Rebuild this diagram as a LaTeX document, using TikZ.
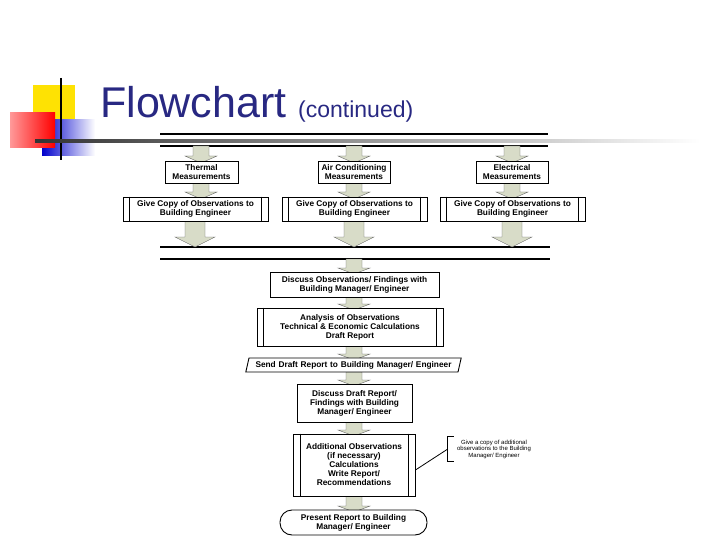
\documentclass[tikz,border=0pt]{standalone}
\usepackage{fontspec}
\setmainfont{Liberation Sans}
\usetikzlibrary{shapes.geometric}
\definecolor{navy}{RGB}{40,40,130}
\definecolor{afill}{RGB}{216,220,200}
\newcommand{\farrow}[6]{% x, ytop, ybot, shaft half, head half, head len
  \filldraw[fill=afill,draw=black!60,line width=0.4pt] (#1-#4,#2) -- (#1+#4,#2) -- (#1+#4,#3-#6) -- (#1+#5,#3-#6) -- (#1,#3) -- (#1-#5,#3-#6) -- (#1-#4,#3-#6) -- cycle;}
\tikzset{
 box/.style={draw,line width=0.9pt,align=center,font=\fontsize{8.3}{9}\selectfont\bfseries,inner sep=1pt},
 hl/.style={line width=1.3pt},
}
\begin{document}
\begin{tikzpicture}[x=1pt,y=-1pt]
\useasboundingbox (0,0) rectangle (720,540);
% logo
\fill[yellow!85!orange] (33,85) rectangle (75,120);
\shade[left color=blue!80!black,right color=white] (42,120) rectangle (95,156);
\shade[left color=red!40,right color=red] (10,113) rectangle (55,148);
\draw[line width=1.5pt] (61,78) -- (61,160);
\shade[left color=black!80,right color=white] (35,140) rectangle (700,142.5);
\node[anchor=base west,text=navy,font=\fontsize{43}{45}\selectfont,inner sep=0] (t) at (100,118) {Flowchart};
\node[anchor=base west,text=navy,font=\fontsize{23}{25}\selectfont,inner sep=0] (t2) at (298,118) {(continued)};
% bars
\draw[hl] (160,134) -- (548,134);
\draw[hl] (160,146) -- (548,146);
\draw[hl] (160,247) -- (550,247);
\draw[hl] (160,259) -- (550,259);
% small arrows top
\foreach \x in {201,354,512}{\farrow{\x}{146}{163}{8}{16}{7}}
\foreach \x in {201,354,512}{\farrow{\x}{183}{199}{8}{16}{7}}
\foreach \x in {195,354,512}{\farrow{\x}{221}{247}{10}{20}{10}}
\node[box,fill=white,minimum width=73pt,minimum height=22pt] (th) at (201.5,172) {Thermal\\Measurements};
\node[box,fill=white,minimum width=72pt,minimum height=22pt] (ac) at (354,172) {Air Conditioning\\Measurements};
\node[box,fill=white,minimum width=72pt,minimum height=22pt] (el) at (512,172) {Electrical\\Measurements};
\foreach \n/\x in {g1/195.5,g2/354.5,g3/512.5}{
 \node[box,fill=white,minimum width=145pt,minimum height=24pt] (\n) at (\x,209) {Give Copy of Observations to\\Building Engineer};
 \draw[line width=0.9pt] ([xshift=7pt]\n.north west) -- ([xshift=7pt]\n.south west);
 \draw[line width=0.9pt] ([xshift=-7pt]\n.north east) -- ([xshift=-7pt]\n.south east);
}
% central chain
\farrow{354}{259}{274}{8}{16}{6}
\farrow{354}{297}{310}{8}{16}{6}
\farrow{354}{346}{360}{8}{16}{6}
\farrow{354}{372}{386}{8}{16}{6}
\farrow{354}{422}{436}{8}{16}{6}
\farrow{354}{496}{512}{8}{16}{6}
\node[box,fill=white,minimum width=169pt,minimum height=25pt] (d1) at (354.5,284.5) {Discuss Observations/ Findings with\\Building Manager/ Engineer};
\node[box,fill=white,minimum width=186pt,minimum height=38pt] (an) at (350,327) {Analysis of Observations\\Technical \& Economic Calculations\\Draft Report};
\draw[line width=0.9pt] ([xshift=7pt]an.north west) -- ([xshift=7pt]an.south west);
\draw[line width=0.9pt] ([xshift=-7pt]an.north east) -- ([xshift=-7pt]an.south east);
\node[box,fill=white,trapezium,trapezium stretches body,trapezium left angle=70,trapezium right angle=110,text width=208pt,minimum height=14pt,inner sep=0.5pt] (sd) at (353.5,365) {Send Draft Report to Building Manager/ Engineer};
\node[box,fill=white,minimum width=115pt,minimum height=38pt] (d2) at (354.5,403) {Discuss Draft Report/\\Findings with Building\\Manager/ Engineer};
\node[box,fill=white,minimum width=122pt,minimum height=62pt] (ad) at (354,465) {Additional Observations\\(if necessary)\\Calculations\\Write Report/\\Recommendations};
\draw[line width=0.9pt] ([xshift=8pt]ad.north west) -- ([xshift=8pt]ad.south west);
\draw[line width=0.9pt] ([xshift=-7pt]ad.north east) -- ([xshift=-7pt]ad.south east);
\node[box,fill=white,rounded corners=12pt,minimum width=147pt,minimum height=25pt] (pr) at (353.5,522.5) {Present Report to Building\\Manager/ Engineer};
% note
\node[align=center,font=\fontsize{6}{6.5}\selectfont,inner sep=1pt,minimum width=92pt,minimum height=25pt] (nt) at (494,449) {Give a copy of additional\\observations to the Building\\Manager/ Engineer};
\draw[line width=0.8pt] ([xshift=6pt]nt.north west) -- (nt.north west) -- (nt.south west) -- ([xshift=6pt]nt.south west);
\draw[line width=0.8pt] (ad.east) ++(0,5) coordinate (c1) -- (nt.west);
\end{tikzpicture}
\end{document}
